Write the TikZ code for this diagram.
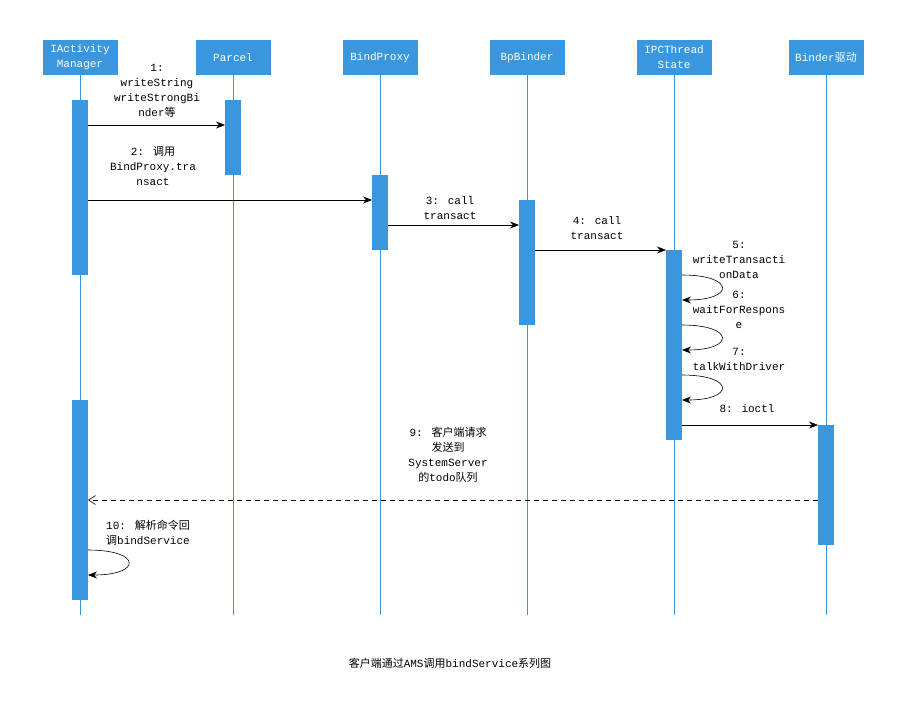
\documentclass[tikz,border=0pt]{standalone}
\usepackage{fontspec}
\setmainfont{Liberation Mono}
\newfontfamily\cjk{Noto Sans CJK SC}
\usetikzlibrary{arrows.meta}
\definecolor{bl}{HTML}{3A96DD}
\begin{document}
\begin{tikzpicture}[x=1pt,y=-1pt,
  font=\fontsize{11}{15}\selectfont,
  hd/.style={fill=bl,draw=none,text=white,minimum width=75pt,minimum height=35pt,align=center,inner sep=1pt},
  life/.style={draw=bl,line width=0.8pt},
  act/.style={fill=bl,draw=none},
  msg/.style={-{Stealth[length=9pt,width=7pt]},line width=0.6pt},
  lbl/.style={align=center,inner sep=0pt}]
\useasboundingbox (0,0) rectangle (909,724);
\foreach \n/\x/\t in {a/80/{IActivity\\Manager},p/233/Parcel,b/380/BindProxy,bp/527/BpBinder,ipc/674/{IPCThread\\State},d/826/{Binder{\cjk 驱动}}}{
  \draw[life] (\x,75) -- (\x,615);
  \node[hd] (\n) at (\x,57.5) {\t};
}
\fill[act] (72,100) rectangle (88,275);
\fill[act] (72,400) rectangle (88,600);
\fill[act] (225,100) rectangle (241,175);
\fill[act] (372,175) rectangle (388,250);
\fill[act] (519,200) rectangle (535,325);
\fill[act] (666,250) rectangle (682,440);
\fill[act] (818,425) rectangle (834,545);
\coordinate (m1s) at (88,125); \coordinate (m1e) at (225,125);
\draw[msg] (m1s) -- (m1e);
\node[lbl] (l1) at (157,91) {1:\\writeString\\writeStrongBi\\nder{\cjk 等}};
\coordinate (m2s) at (88,200); \coordinate (m2e) at (372,200);
\draw[msg] (m2s) -- (m2e);
\node[lbl] (l2) at (153,166) {2: {\cjk 调用}\\BindProxy.tra\\nsact};
\coordinate (m3s) at (388,225); \coordinate (m3e) at (519,225);
\draw[msg] (m3s) -- (m3e);
\node[lbl] (l3) at (450,208) {3: call\\transact};
\coordinate (m4s) at (535,250); \coordinate (m4e) at (666,250);
\draw[msg] (m4s) -- (m4e);
\node[lbl] (l4) at (597,228) {4: call\\transact};
\foreach \y in {275,325,375}{
  \draw[msg] (682,\y) .. controls (735,\y) and (735,\y+25) .. (682,\y+25);
}
\node[lbl] (l5) at (739,260) {5:\\writeTransacti\\onData};
\node[lbl] (l6) at (739,310) {6:\\waitForRespons\\e};
\node[lbl] (l7) at (739,359) {7:\\talkWithDriver};
\coordinate (m8s) at (682,425); \coordinate (m8e) at (818,425);
\draw[msg] (m8s) -- (m8e);
\node[lbl] (l8) at (747,409) {8: ioctl};
\coordinate (m9s) at (818,500); \coordinate (m9e) at (88,500);
\draw[-{Straight Barb[length=7pt,width=9pt]},dash pattern=on 5pt off 4pt,line width=0.6pt] (m9s) -- (m9e);
\node[lbl] (l9) at (448,455) {9: {\cjk 客户端请求}\\{\cjk 发送到}\\SystemServer\\{\cjk 的}todo{\cjk 队列}};
\draw[msg] (88,550) .. controls (142,550) and (142,575) .. (88,575);
\node[lbl] (l10) at (148,533) {10: {\cjk 解析命令回}\\{\cjk 调}bindService};
\node[lbl] (t) at (450,663) {{\cjk 客户端通过}AMS{\cjk 调用}bindService{\cjk 系列图}};
\end{tikzpicture}
\end{document}
